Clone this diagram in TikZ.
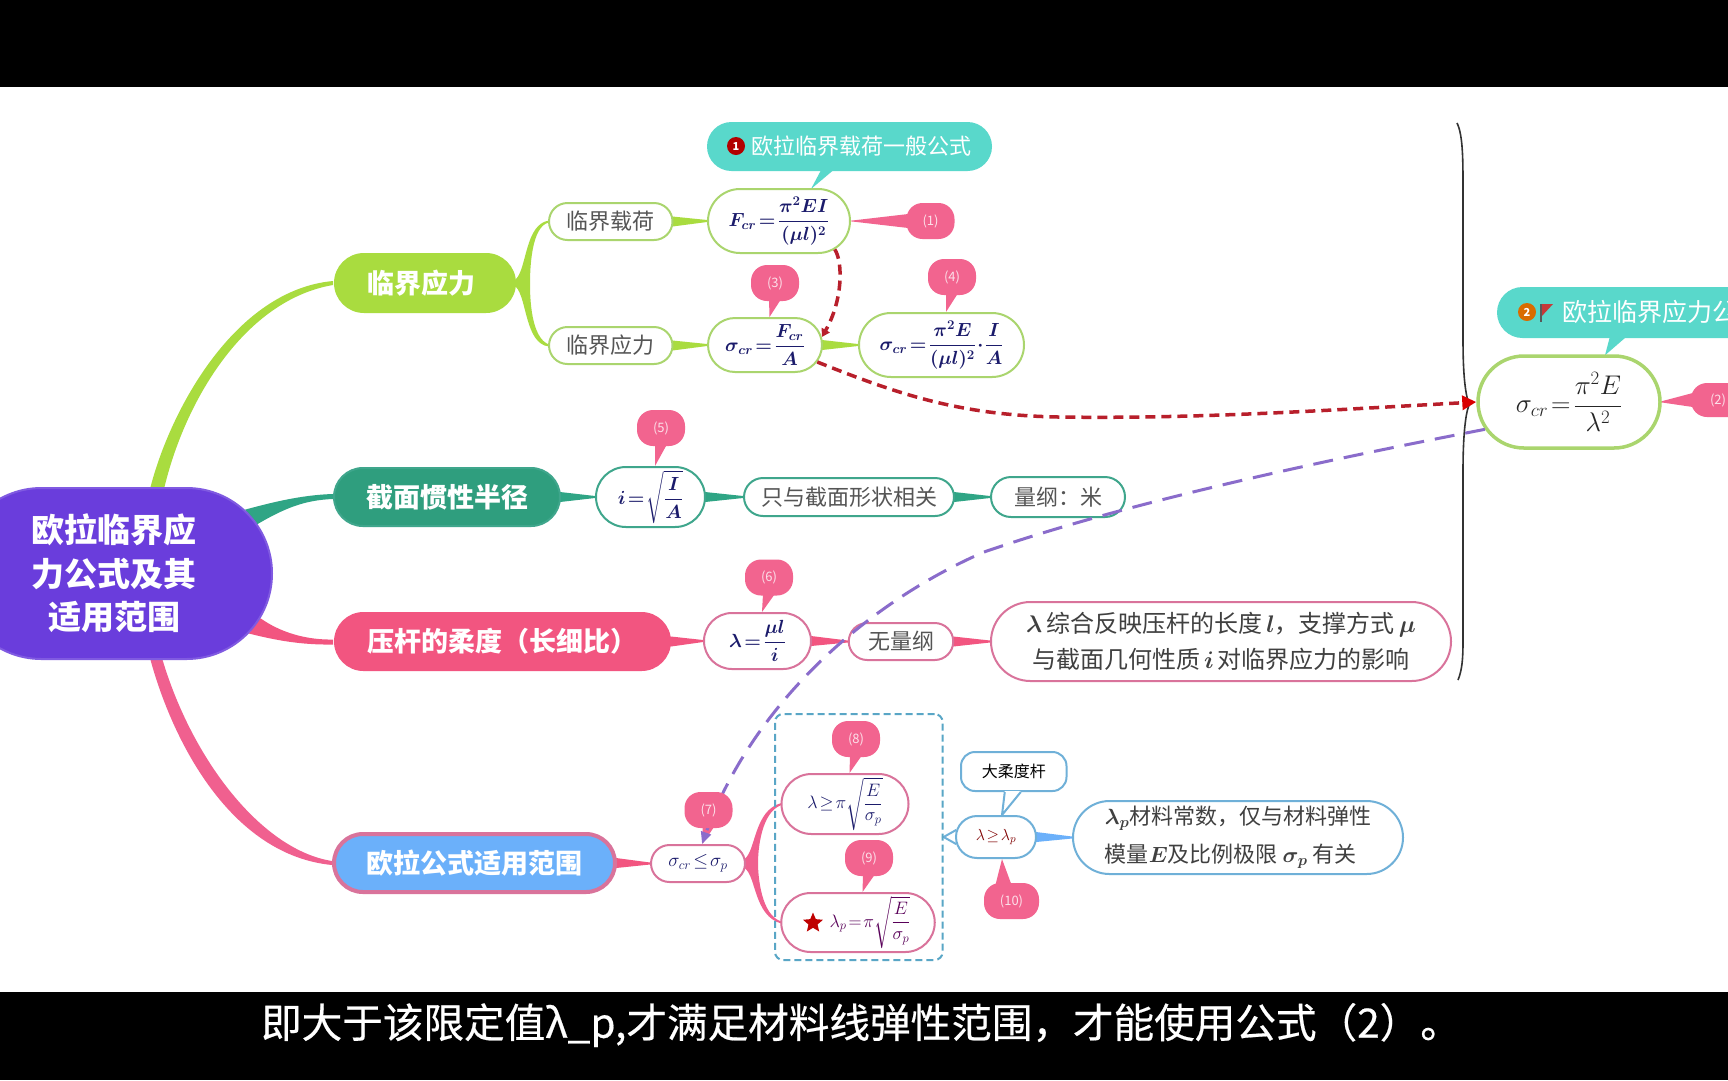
\RequirePackage{fix-cm}
\documentclass[tikz,border=0pt]{standalone}
\usepackage{amsmath}
\usepackage[no-math]{fontspec}
\setmainfont{Noto Sans CJK SC}
\newfontfamily\captionfont[FakeBold=0.5]{Noto Sans CJK SC}
\usetikzlibrary{shapes.misc,shapes.geometric,arrows.meta,calc,backgrounds}

\definecolor{rootViolet}{HTML}{6A3DDC}
\definecolor{lineGreen}{HTML}{A9DC3F}
\definecolor{edgeGreen}{HTML}{AAD56E}
\definecolor{lineTeal}{HTML}{2FA585}
\definecolor{fillTeal}{HTML}{2F9E7E}
\definecolor{edgeTeal}{HTML}{3FA68C}
\definecolor{linePink}{HTML}{F0608F}
\definecolor{fillPink}{HTML}{F25580}
\definecolor{edgePink}{HTML}{D9739B}
\definecolor{fillBlue}{HTML}{6BB0FA}
\definecolor{edgeBlue}{HTML}{6FB0D8}
\definecolor{tagPink}{HTML}{F2648F}
\definecolor{calloutTeal}{HTML}{59D8CB}
\definecolor{formulaNavy}{HTML}{1B1B6B}
\definecolor{bodyGrey}{HTML}{555555}
\definecolor{dashRed}{HTML}{B81F2B}
\definecolor{dashViolet}{HTML}{8A6CCB}

\tikzset{
    pill/.style={rounded rectangle, inner sep=0pt},
    rootnode/.style={pill, fill=rootViolet, draw=rootViolet!85!white, line width=2pt, text=white,
        align=center, font=\fontsize{33}{43.5}\selectfont\bfseries},
    branchnode/.style={pill, line width=2pt, text=white, font=\fontsize{27}{30}\selectfont\bfseries},
    subnode/.style={pill, fill=white, line width=2pt, text=bodyGrey, font=\fontsize{22}{26}\selectfont},
    mathnode/.style={pill, fill=white, line width=2pt, text=formulaNavy, font=\fontsize{19}{22}\selectfont\boldmath,
        execute at begin node={\thickmuskip=2mu\medmuskip=1mu}},
    plainnode/.style={pill, fill=white, line width=2pt, text=black!75},
    tagnode/.style={rectangle, rounded corners=16pt, inner sep=0pt, fill=tagPink, text=tagPink!20!white,
        minimum width=48pt, minimum height=36pt, font=\fontsize{13}{15}\selectfont},
    calloutnode/.style={pill, fill=calloutTeal},
    callouttext/.style={text=white, inner sep=0pt, font=\fontsize{22}{26}\selectfont},
    bulletnode/.style={circle, inner sep=0pt, minimum size=18pt, text=white, font=\fontsize{11}{12}\selectfont\bfseries},
    redlink/.style={dashRed, line width=3.5pt, dash pattern=on 10pt off 6pt},
    violetlink/.style={dashViolet, line width=3pt, dash pattern=on 20pt off 11pt}
}

\begin{document}
\begin{tikzpicture}[x=1pt,y=-1pt]

    \useasboundingbox (0,0) rectangle (1728,1080);
    \clip (0,0) rectangle (1728,1080);

    % Page and subtitle bands
    \begin{scope}[on background layer]
        \fill[white] (0,0) rectangle (1728,1080);
        \fill[black] (0,0) rectangle (1728,87);
        \fill[black] (0,992) rectangle (1728,1080);
    \end{scope}
    \node[text=white, font=\fontsize{40.6}{44}\captionfont] (nCaption) at (861,1025) {即大于该限定值λ\_p,才满足材料线弹性范围，才能使用公式（2）。};

    % Root and branches
    \node[rootnode, minimum width=316pt, minimum height=171pt] (nRoot) at (114,573.5) {欧拉临界应\\力公式及其\\适用范围};
    \node[branchnode, fill=lineGreen, minimum width=182pt, minimum height=60pt] (nCritical) at (425,283) {\hspace*{-8pt}临界应力};
    \node[branchnode, fill=fillTeal, draw=edgeTeal, minimum width=226pt, minimum height=58pt] (nRadius) at (447,497) {截面惯性半径};
    \node[branchnode, fill=fillPink, minimum width=337pt, minimum height=59pt] (nSlender) at (502.5,641.5) {压杆的柔度（长细比）};
    \node[branchnode, fill=fillBlue, draw=edgePink, line width=4pt, minimum width=281pt, minimum height=58pt] (nRange) at (474.5,863) {欧拉公式适用范围};

    % First branch
    \node[subnode, draw=edgeGreen, minimum width=123.5pt, minimum height=37pt] (nLoadName) at (610.75,221.5) {临界载荷};
    \node[subnode, draw=edgeGreen, minimum width=123.5pt, minimum height=37pt] (nStressName) at (610.75,345.5) {临界应力};
    \node[mathnode, draw=edgeGreen, minimum width=142pt, minimum height=64pt] (nLoad) at (779,221) {$F_{cr}=\dfrac{\pi^2EI}{(\mu l)^2}$};
    \node[mathnode, draw=edgeGreen, minimum width=114pt, minimum height=54pt] (nStress) at (765,345) {$\sigma_{cr}=\dfrac{F_{cr}}{A}$};
    \node[mathnode, draw=edgeGreen, minimum width=165pt, minimum height=64pt] (nStressFull) at (941.5,345) {$\sigma_{cr}=\dfrac{\pi^2E}{(\mu l)^2}\cdot\dfrac{I}{A}$};

    % Result on the right
    \draw[black!80, line width=1.6pt] (1457,123) .. controls (1463,135) and (1463,160) .. (1463,190) -- (1463,340)
        .. controls (1463,380) and (1466,395) .. (1469,405) .. controls (1465,415) and (1463,440) .. (1463,470)
        -- (1463,640) .. controls (1463,660) and (1462,670) .. (1458,680);
    \node[pill, fill=white, draw=edgeGreen, line width=3.5pt, text=black!85, minimum width=182pt, minimum height=92pt,
        font=\fontsize{27}{30}\selectfont, execute at begin node={\thickmuskip=2mu}] (nMain) at (1569,402) {$\sigma_{cr}=\dfrac{\pi^2E}{\lambda^2}$};

    % Second branch
    \node[mathnode, draw=edgeTeal, minimum width=109pt, minimum height=60pt] (nRadiusEq) at (650.5,497) {$i=\sqrt{\dfrac{I}{A}}$};
    \node[subnode, draw=edgeTeal, minimum width=210pt, minimum height=38pt] (nShape) at (849,497) {只与截面形状相关};
    \node[subnode, draw=edgeTeal, minimum width=134pt, minimum height=40pt] (nUnit) at (1058,497) {量纲：米};

    % Third branch
    \node[mathnode, draw=edgePink, minimum width=107pt, minimum height=56pt] (nLambda) at (757.5,641) {$\lambda=\dfrac{\mu l}{i}$};
    \node[subnode, draw=edgePink, minimum width=104.5pt, minimum height=37pt] (nNoUnit) at (901,641.5) {无量纲};
    \node[plainnode, draw=edgePink, align=center, minimum width=460pt, minimum height=79pt, font=\fontsize{24}{36}\selectfont\boldmath] (nMeaning) at (1221,641.5)
        {$\lambda$\,综合反映压杆的长度\,$l$，支撑方式\,$\mu$\\与截面几何性质\,$i$\,对临界应力的影响};

    % Fourth branch
    \node[mathnode, draw=edgePink, minimum width=94pt, minimum height=37pt, font=\fontsize{19}{22}\selectfont] (nLimit) at (698,863.5) {$\sigma_{cr}\leq\sigma_p$};
    \node[rectangle, rounded corners=8pt, draw=edgeBlue!80!teal, line width=2pt, dash pattern=on 7pt off 4pt, minimum width=167.6pt, minimum height=246pt] (nGroup) at (858.8,837) {};
    \node[mathnode, draw=edgePink, minimum width=127pt, minimum height=60pt, font=\fontsize{18}{20}\selectfont] (nAbove) at (845,804) {$\lambda\geq\pi\sqrt{\dfrac{E}{\sigma_p}}$};
    \node[mathnode, draw=edgePink, text=violet!70!black, minimum width=153.5pt, minimum height=59pt, font=\fontsize{18}{20}\selectfont] (nPlimit) at (858,922.5) {\hspace*{24pt}$\lambda_p=\pi\sqrt{\dfrac{E}{\sigma_p}}$};
    \node[star, star points=5, star point ratio=2.2, fill=red!75!black, inner sep=0pt, minimum size=21pt] (nStar) at (813,923) {};
    \node[mathnode, draw=edgeBlue, text=red!50!black, minimum width=80pt, minimum height=42pt, font=\fontsize{16}{18}\selectfont] (nRatio) at (996,837) {$\lambda\geq\lambda_p$};
    \node[rectangle, rounded corners=14pt, fill=white, draw=edgeBlue, line width=2pt, inner sep=0pt, text=black, minimum width=105.5pt, minimum height=39pt,
        font=\fontsize{16}{18}\selectfont] (nBigRod) at (1013.75,771.5) {大柔度杆};
    \node[plainnode, draw=edgeBlue, align=left, minimum width=330pt, minimum height=73pt, font=\fontsize{22}{38}\selectfont\boldmath] (nMaterial) at (1238,837.5)
        {$\lambda_p$材料常数，仅与材料弹性\\模量$E$及比例极限 $\sigma_p$ 有关};

    % Dashed relations
    \draw[redlink, -{Triangle[length=8pt,width=9pt]}] (nLoad.-27) .. controls (843,262) and (843,300) .. (nStress.8);
    \coordinate (redMid) at (1058,417);
    \draw[redlink, -{Triangle[length=14pt,width=14pt,color=red!85!black]}] (nStress.-18) .. controls (900,395) and (960,415) .. (redMid)
        .. controls (1200,419) and (1330,410) .. (nMain.west);
    \coordinate (violetMid) at (984,552);
    \draw[violetlink, -{Triangle[length=12pt,width=10pt]}] (nMain.198) .. controls (1300,465) and (1120,505) .. (violetMid)
        .. controls (860,606) and (750,710) .. ($(nLimit.north)+(4,0)$);

    % Callouts
    \node[calloutnode, minimum width=285pt, minimum height=49pt] (nCallLoad) at (849.5,146.5) {};
    \node[bulletnode, fill=red!70!black] (nBulletLoad) at (736,146) {1};
    \node[callouttext] (nCallLoadText) at (861,146) {欧拉临界载荷一般公式};
    \node[calloutnode, minimum width=300pt, minimum height=51pt] (nCallMain) at (1647,312.5) {};
    \node[bulletnode, fill=orange!85!black] (nBulletMain) at (1527,312) {2};
    \fill[red!55!gray] (1541,304) -- (1553,304) -- (1541,317) -- cycle;
    \draw[black!65, line width=1.2pt] (1541,304) -- (1541,322);
    \node[callouttext, anchor=west, font=\fontsize{25}{28}\selectfont] (nCallMainText) at (1562,312) {欧拉临界应力公};

    % Numbered tags
    \foreach \name/\x/\y/\txt in {tagOne/930.5/221/(1), tagThree/775/283/(3), tagFour/952/277/(4),
        tagFive/661/428/(5), tagSix/769/577.5/(6), tagSeven/708.5/810/(7), tagEight/856/739/(8), tagNine/869/858/(9)}
        \node[tagnode] (\name) at (\x,\y) {\txt};
    \node[tagnode, minimum width=54pt, minimum height=34pt] (tagTwo) at (1718,400) {(2)};
    \node[tagnode, minimum width=55pt] (tagTen) at (1011.5,901) {(10)};

    \begin{scope}[on background layer]
        % Links from the root
        \fill[lineGreen] ($(nRoot.north)+(36,2)$) .. controls (170,410) and (235,290) .. ($(nCritical.west)+(0,-2)$) -- ($(nCritical.west)+(0,2)$)
            .. controls (245,300) and (185,400) .. ($(nRoot.north)+(50,2)$) -- cycle;
        \fill[lineTeal] (nRoot.26) .. controls (270,503) and (300,495) .. ($(nRadius.west)+(0,-3)$) -- ($(nRadius.west)+(0,2)$)
            .. controls (305,500) and (285,508) .. (nRoot.19) -- cycle;
        \fill[fillPink] (nRoot.-17) .. controls (280,632) and (305,640) .. ($(nSlender.west)+(0,-2)$) -- ($(nSlender.west)+(0,3)$)
            .. controls (300,645) and (275,640) .. (nRoot.-24) -- cycle;
        \fill[linePink] ($(nRoot.south)+(36,-2)$) .. controls (172,740) and (230,855) .. ($(nRange.west)+(0,2)$) -- ($(nRange.west)+(0,-2)$)
            .. controls (262,850) and (192,760) .. ($(nRoot.south)+(48,-2)$) -- cycle;

        % Forks
        \fill[lineGreen] ($(nCritical.east)+(-1,-4)$) .. controls (527,268) and (525,224) .. ($(nLoadName.west)+(1,-1)$) -- ($(nLoadName.west)+(1,1)$)
            .. controls (531,226) and (530,270) .. (530,284) .. controls (530,298) and (531,338) .. ($(nStressName.west)+(1,-1)$) -- ($(nStressName.west)+(1,1)$)
            .. controls (525,344) and (527,298) .. ($(nCritical.east)+(-1,4)$) -- cycle;
        \fill[linePink] ($(nLimit.east)+(-1,-5)$) .. controls (756,850) and (754,810) .. ($(nAbove.west)+(1,-1)$) -- ($(nAbove.west)+(1,1)$)
            .. controls (761,812) and (758,850) .. (758,863) .. controls (758,876) and (761,915) .. ($(nPlimit.west)+(1,-1)$) -- ($(nPlimit.west)+(1,1)$)
            .. controls (754,916) and (756,876) .. ($(nLimit.east)+(-1,5)$) -- cycle;
        \draw[edgeBlue, line width=2pt] (nRatio.170) -- (nGroup.east) -- (nRatio.190);

        % Spikes between neighbours
        \foreach \col/\a/\b in {lineGreen/nLoadName/nLoad, lineGreen/nStressName/nStress, lineGreen/nStress/nStressFull,
            lineTeal/nRadius/nRadiusEq, lineTeal/nRadiusEq/nShape, lineTeal/nShape/nUnit,
            fillPink/nSlender/nLambda, fillPink/nLambda/nNoUnit, fillPink/nNoUnit/nMeaning,
            fillPink/nRange/nLimit, fillBlue/nRatio/nMaterial}
            \fill[\col, draw=\col, line width=2pt, line join=round] ($(\a.east)+(-1,-4)$) -- (\b.west) -- ($(\a.east)+(-1,4)$) -- cycle;

        % Tag tails
        \foreach \bub/\tgt in {tagThree/nStress, tagFour/nStressFull, tagFive/nRadiusEq, tagSix/nLambda,
            tagSeven/nLimit, tagEight/nAbove, tagNine/nPlimit}
            \fill[tagPink] ($(\bub.south)+(-6,-2)$) -- ($(\tgt.north)+(4.5,0)$) -- ($(\bub.south)+(6,-2)$) -- cycle;
        \fill[tagPink] ($(tagOne.west)+(2,-7)$) -- ($(nLoad.east)+(-3,0)$) -- ($(tagOne.west)+(2,7)$) -- cycle;
        \fill[tagPink] ($(tagTwo.west)+(2,-7)$) -- ($(nMain.east)+(-3,0)$) -- ($(tagTwo.west)+(2,7)$) -- cycle;
        \fill[tagPink] ($(tagTen.north)+(-16,2)$) -- ($(nRatio.south)+(6,0)$) -- ($(tagTen.north)+(0,2)$) -- cycle;

        % Callout tails
        \fill[calloutTeal] ($(nCallLoad.south)+(-28,-2)$) -- ($(nLoad.north)+(32,1)$) -- ($(nCallLoad.south)+(-15,-2)$) -- cycle;
        \fill[calloutTeal] ($(nCallMain.south)+(-37,-2)$) -- ($(nMain.north)+(36,1)$) -- ($(nCallMain.south)+(-20,-2)$) -- cycle;
    \end{scope}

    % Tail of the open callout
    \fill[white] ($(nBigRod.south)+(-9,-1)$) -- ($(nRatio.north)+(6,0)$) -- ($(nBigRod.south)+(7,-1)$) -- cycle;
    \draw[edgeBlue, line width=2pt, line join=round] ($(nBigRod.south)+(-9,0)$) -- ($(nRatio.north)+(6,0)$) -- ($(nBigRod.south)+(7,0)$);

\end{tikzpicture}
\end{document}
